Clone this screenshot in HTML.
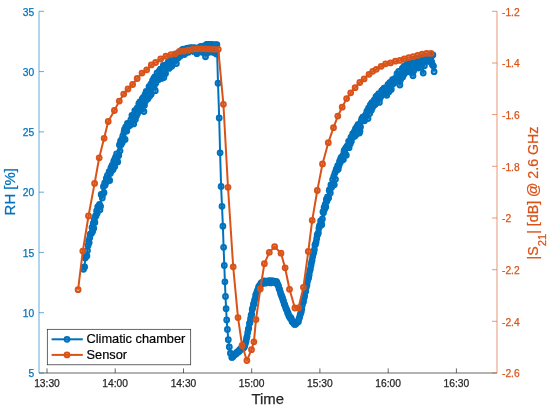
<!DOCTYPE html>
<html lang="en"><head><meta charset="utf-8"><title>RH and |S21| vs Time</title>
<style>html,body{margin:0;padding:0;background:#fff}body{width:550px;height:410px;overflow:hidden;position:relative}</style></head>
<body>
<svg width="550" height="410" viewBox="0 0 550 410" style="position:absolute;left:0;top:0">
<rect width="550" height="410" fill="#fff"/>
<g fill="none" stroke="#0072BD" stroke-width="2" stroke-linejoin="round"><polyline points="83.5,269.3 84.1,267.1 84.6,266.9 85.2,258.1 85.8,256.2 86.3,255.5 86.9,256.0 87.5,250.6 88.1,245.5 88.6,240.8 89.2,242.6 89.8,237.7 90.3,234.1 90.9,233.8 91.5,233.3 92.0,227.4 92.6,231.4 93.2,223.3 93.8,228.3 94.3,219.4 94.9,222.6 95.5,215.8 96.0,215.9 96.6,211.0 97.2,213.2 97.7,206.8 98.3,207.1 98.9,206.0 99.5,204.5 100.0,209.8 100.6,206.3 101.2,194.4 101.7,194.8 102.3,198.1 102.9,194.2 103.4,186.7 104.0,192.7 104.6,183.2 105.2,184.9 105.7,181.9 106.3,178.5 106.9,181.5 107.4,175.5 108.0,178.0 108.6,180.6 109.1,171.6 109.7,180.5 110.3,173.5 110.9,167.9 111.4,171.3 112.0,165.4 112.6,167.3 113.1,169.4 113.7,161.5 114.3,160.1 114.8,166.6 115.4,157.4 116.0,162.3 116.6,153.9 117.1,157.9 117.7,161.9 118.3,155.8 118.8,155.3 119.4,144.9 120.0,150.8 120.5,141.2 121.1,144.7 121.7,139.4 122.3,142.6 122.8,135.8 123.4,138.5 124.0,132.2 124.5,129.5 125.1,139.5 125.7,126.9 126.2,130.6 126.8,131.1 127.4,123.4 128.0,126.8 128.5,124.1 129.1,123.3 129.7,125.6 130.2,124.7 130.8,119.8 131.4,123.2 131.9,115.3 132.5,116.9 133.1,119.3 133.7,123.9 134.2,117.6 134.8,110.6 135.4,119.6 135.9,110.8 136.5,115.7 137.1,108.2 137.6,113.5 138.2,110.3 138.8,103.7 139.4,107.5 139.9,101.8 140.5,104.0 141.1,109.6 141.6,103.1 142.2,98.9 142.8,105.0 143.3,97.5 143.9,111.5 144.5,105.2 145.1,94.5 145.6,100.9 146.2,91.5 146.8,94.5 147.3,91.9 147.9,98.8 148.5,97.2 149.0,86.7 149.6,88.4 150.2,95.6 150.8,84.2 151.3,94.0 151.9,85.8 152.5,80.7 153.0,85.6 153.6,78.7 154.2,86.1 154.7,76.8 155.3,90.7 155.9,83.1 156.5,77.8 157.0,73.0 157.6,76.0 158.2,79.4 158.7,79.5 159.3,70.9 159.9,74.2 160.4,69.2 161.0,70.3 161.6,78.4 162.2,69.5 162.7,69.9 163.3,65.3 163.9,77.6 164.4,72.8 165.0,66.2 165.6,73.6 166.1,65.1 166.7,66.7 167.3,63.9 167.9,66.2 168.4,61.3 169.0,68.4 169.6,60.5 170.1,60.3 170.7,66.4 171.3,60.4 171.8,66.2 172.4,65.0 173.0,59.0 173.6,58.7 174.1,59.4 174.7,56.0 175.3,58.6 175.8,60.2 176.4,63.5 177.0,54.0 177.5,57.6 178.1,58.0 178.7,52.7 179.3,52.3 179.8,55.9 180.4,56.0 181.0,50.8 181.5,53.1 182.1,49.9 182.7,50.7 183.2,49.2 183.8,49.5 184.4,54.6 185.0,53.2 185.5,50.1 186.1,52.0 186.7,48.4 187.2,49.1 187.8,48.2 188.4,52.3 188.9,48.1 189.5,49.5 190.1,48.0 190.7,48.9 191.2,47.9 191.8,47.9 192.4,49.7 192.9,47.9 193.5,51.2 194.1,51.4 194.6,47.9 195.2,47.9 195.8,48.3 196.4,50.3 196.9,53.7 197.5,52.0 198.1,47.8 198.6,51.2 199.2,47.8 199.8,48.5 200.3,47.0 200.9,46.4 201.5,51.0 202.1,47.0 202.6,52.4 203.2,46.2 203.8,49.7 204.3,48.3 204.9,45.9 205.5,56.8 206.0,51.8 206.6,44.5 207.2,49.7 207.8,44.4 208.3,52.6 208.9,49.5 209.5,44.4 210.0,51.8 210.6,44.4 211.2,46.9 211.7,49.6 212.3,44.4 212.9,52.2 213.5,48.0 214.0,45.6 214.6,52.7 215.2,47.1 215.7,44.6 216.3,54.0 216.9,44.7 218.0,83.2 219.2,118.0 220.1,152.8 221.1,186.4 222.0,206.3 222.9,226.2 223.6,247.3 224.3,265.5 224.9,281.8 225.5,296.5 226.1,308.7 226.7,320.0 227.4,329.4 228.3,339.7 229.3,347.0 230.4,353.2 231.8,357.4 232.3,357.2 232.9,356.7 233.4,355.5 234.0,354.8 234.6,354.2 235.1,354.6 235.7,354.1 236.3,352.8 236.9,353.2 237.4,351.8 238.0,351.7 238.6,351.3 239.1,351.4 239.7,349.7 240.3,349.6 240.8,349.6 241.4,348.1 242.0,348.0 242.6,348.0 243.1,348.4 243.7,347.5 244.3,346.9 244.8,345.5 245.4,343.5 246.0,341.6 246.5,338.7 247.1,336.3 247.7,332.6 248.3,329.5 248.8,328.1 249.4,323.6 250.0,322.5 250.5,318.9 251.1,315.4 251.7,314.2 252.2,309.5 252.8,307.8 253.4,304.2 254.0,304.0 254.5,300.6 255.1,298.7 255.7,295.1 256.2,294.4 256.8,292.3 257.4,290.7 257.9,290.0 258.5,287.4 259.1,286.1 259.7,285.8 260.2,285.4 260.8,283.5 261.4,283.9 261.9,282.3 262.5,282.9 263.1,283.2 263.6,281.1 264.2,282.7 264.8,280.8 265.4,283.2 265.9,281.9 266.5,281.7 267.1,282.5 267.6,281.9 268.2,282.4 268.8,280.7 269.3,282.0 269.9,282.0 270.5,282.9 271.1,280.6 271.6,281.7 272.2,282.2 272.8,282.0 273.3,280.8 273.9,282.2 274.5,281.3 275.0,281.3 275.6,283.1 276.2,281.5 276.8,282.2 277.3,283.7 277.9,284.8 278.5,286.0 279.0,288.5 279.6,289.5 280.2,291.6 280.7,293.7 281.3,295.0 281.9,296.7 282.5,297.9 283.0,300.0 283.6,301.4 284.2,304.0 284.7,304.6 285.3,306.3 285.9,308.5 286.4,309.3 287.0,310.3 287.6,313.0 288.2,313.1 288.7,315.6 289.3,316.7 289.9,316.9 290.4,318.6 291.0,317.8 291.6,319.6 292.1,321.7 292.7,321.8 293.3,322.6 293.9,323.6 294.4,324.2 295.0,324.4 295.6,324.1 296.1,323.3 296.7,323.0 297.3,322.1 297.8,321.4 298.4,321.8 299.0,318.8 299.6,317.3 300.1,315.1 300.7,313.3 301.3,311.8 301.8,309.1 302.4,305.1 303.0,302.2 303.5,301.4 304.1,297.9 304.7,295.8 305.3,291.7 305.8,291.1 306.4,287.0 307.0,284.8 307.5,281.3 308.1,279.1 308.7,277.4 309.2,274.7 309.8,271.0 310.4,269.1 311.0,265.5 311.5,262.6 312.1,260.2 312.7,256.5 313.2,254.0 313.8,252.2 314.4,249.6 314.9,245.1 315.5,244.3 316.1,242.0 316.7,238.5 317.2,235.0 317.8,234.2 318.4,232.7 318.9,228.2 319.5,225.7 320.1,225.7 320.6,220.8 321.2,222.4 321.8,224.8 322.4,218.9 322.9,211.8 323.5,212.8 324.1,207.5 324.6,209.3 325.2,204.4 325.8,207.0 326.3,199.5 326.9,201.2 327.5,196.8 328.1,198.5 328.6,197.7 329.2,190.4 329.8,189.5 330.3,193.0 330.9,184.8 331.5,187.6 332.0,186.2 332.6,179.6 333.2,183.7 333.8,176.3 334.3,184.8 334.9,173.1 335.5,179.3 336.0,170.1 336.6,168.6 337.2,170.0 337.7,165.6 338.3,168.9 338.9,165.7 339.5,161.4 340.0,163.1 340.6,158.8 341.2,157.3 341.7,160.4 342.3,157.6 342.9,155.3 343.4,159.4 344.0,151.2 344.6,149.9 345.2,153.9 345.7,148.1 346.3,155.2 346.9,146.4 347.4,146.2 348.0,146.3 348.6,141.3 349.1,147.7 349.7,141.4 350.3,143.7 350.9,137.3 351.4,141.3 352.0,137.0 352.6,133.8 353.1,136.9 353.7,133.9 354.3,131.6 354.8,136.2 355.4,129.0 356.0,134.7 356.6,127.1 357.1,128.6 357.7,125.3 358.3,124.4 358.8,128.2 359.4,133.1 360.0,131.1 360.5,127.0 361.1,121.4 361.7,119.0 362.3,120.1 362.8,117.2 363.4,119.2 364.0,116.6 364.5,120.8 365.1,117.2 365.7,114.8 366.2,115.4 366.8,111.5 367.4,111.2 368.0,118.5 368.5,108.1 369.1,109.3 369.7,113.5 370.2,105.3 370.8,104.4 371.4,110.2 371.9,102.6 372.5,107.6 373.1,105.7 373.7,101.6 374.2,100.1 374.8,104.4 375.4,104.3 375.9,97.0 376.5,102.6 377.1,95.6 377.6,97.0 378.2,96.5 378.8,93.7 379.4,102.4 379.9,98.4 380.5,96.8 381.1,96.1 381.6,90.8 382.2,94.1 382.8,89.7 383.3,92.8 383.9,88.6 384.5,88.0 385.1,92.4 385.6,93.6 386.2,88.4 386.8,95.3 387.3,91.1 387.9,84.7 388.5,87.2 389.0,91.7 389.6,82.9 390.2,82.3 390.8,88.2 391.3,89.4 391.9,82.5 392.5,79.6 393.0,84.1 393.6,79.7 394.2,80.7 394.7,78.7 395.3,82.2 395.9,81.4 396.5,77.7 397.0,73.7 397.6,78.9 398.2,76.5 398.7,71.5 399.3,74.3 399.9,85.0 400.4,80.3 401.0,74.8 401.6,77.5 402.2,68.6 402.7,76.9 403.3,67.4 403.9,74.4 404.4,66.1 405.0,70.3 405.6,66.3 406.1,64.8 406.7,72.1 407.3,66.0 407.9,70.3 408.4,69.7 409.0,63.4 409.6,71.4 410.1,62.9 410.7,64.6 411.3,72.4 411.8,61.3 412.4,66.5 413.0,75.8 413.6,71.1 414.1,60.2 414.7,66.1 415.3,66.9 415.8,63.0 416.4,59.2 417.0,63.9 417.5,59.2 418.1,68.1 418.7,65.4 419.3,58.2 419.8,62.1 420.4,67.4 421.0,62.2 421.5,60.2 422.1,59.8 422.7,60.9 423.2,73.1 423.8,56.9 424.4,65.7 425.0,56.9 425.5,56.5 426.1,61.2 426.7,60.3 427.2,56.1 427.8,60.7 428.4,55.9 428.9,56.7 429.5,61.6 430.1,55.5 430.7,61.8 431.2,55.3 431.8,62.2 432.4,64.9 432.9,54.9 433.5,66.1 434.1,71.7"/>
<g stroke-width="2" fill="#0072BD" fill-opacity="0.45"><circle cx="83.5" cy="269.3" r="2.4"/><circle cx="84.1" cy="267.1" r="2.4"/><circle cx="84.6" cy="266.9" r="2.4"/><circle cx="85.2" cy="258.1" r="2.4"/><circle cx="85.8" cy="256.2" r="2.4"/><circle cx="86.3" cy="255.5" r="2.4"/><circle cx="86.9" cy="256.0" r="2.4"/><circle cx="87.5" cy="250.6" r="2.4"/><circle cx="88.1" cy="245.5" r="2.4"/><circle cx="88.6" cy="240.8" r="2.4"/><circle cx="89.2" cy="242.6" r="2.4"/><circle cx="89.8" cy="237.7" r="2.4"/><circle cx="90.3" cy="234.1" r="2.4"/><circle cx="90.9" cy="233.8" r="2.4"/><circle cx="91.5" cy="233.3" r="2.4"/><circle cx="92.0" cy="227.4" r="2.4"/><circle cx="92.6" cy="231.4" r="2.4"/><circle cx="93.2" cy="223.3" r="2.4"/><circle cx="93.8" cy="228.3" r="2.4"/><circle cx="94.3" cy="219.4" r="2.4"/><circle cx="94.9" cy="222.6" r="2.4"/><circle cx="95.5" cy="215.8" r="2.4"/><circle cx="96.0" cy="215.9" r="2.4"/><circle cx="96.6" cy="211.0" r="2.4"/><circle cx="97.2" cy="213.2" r="2.4"/><circle cx="97.7" cy="206.8" r="2.4"/><circle cx="98.3" cy="207.1" r="2.4"/><circle cx="98.9" cy="206.0" r="2.4"/><circle cx="99.5" cy="204.5" r="2.4"/><circle cx="100.0" cy="209.8" r="2.4"/><circle cx="100.6" cy="206.3" r="2.4"/><circle cx="101.2" cy="194.4" r="2.4"/><circle cx="101.7" cy="194.8" r="2.4"/><circle cx="102.3" cy="198.1" r="2.4"/><circle cx="102.9" cy="194.2" r="2.4"/><circle cx="103.4" cy="186.7" r="2.4"/><circle cx="104.0" cy="192.7" r="2.4"/><circle cx="104.6" cy="183.2" r="2.4"/><circle cx="105.2" cy="184.9" r="2.4"/><circle cx="105.7" cy="181.9" r="2.4"/><circle cx="106.3" cy="178.5" r="2.4"/><circle cx="106.9" cy="181.5" r="2.4"/><circle cx="107.4" cy="175.5" r="2.4"/><circle cx="108.0" cy="178.0" r="2.4"/><circle cx="108.6" cy="180.6" r="2.4"/><circle cx="109.1" cy="171.6" r="2.4"/><circle cx="109.7" cy="180.5" r="2.4"/><circle cx="110.3" cy="173.5" r="2.4"/><circle cx="110.9" cy="167.9" r="2.4"/><circle cx="111.4" cy="171.3" r="2.4"/><circle cx="112.0" cy="165.4" r="2.4"/><circle cx="112.6" cy="167.3" r="2.4"/><circle cx="113.1" cy="169.4" r="2.4"/><circle cx="113.7" cy="161.5" r="2.4"/><circle cx="114.3" cy="160.1" r="2.4"/><circle cx="114.8" cy="166.6" r="2.4"/><circle cx="115.4" cy="157.4" r="2.4"/><circle cx="116.0" cy="162.3" r="2.4"/><circle cx="116.6" cy="153.9" r="2.4"/><circle cx="117.1" cy="157.9" r="2.4"/><circle cx="117.7" cy="161.9" r="2.4"/><circle cx="118.3" cy="155.8" r="2.4"/><circle cx="118.8" cy="155.3" r="2.4"/><circle cx="119.4" cy="144.9" r="2.4"/><circle cx="120.0" cy="150.8" r="2.4"/><circle cx="120.5" cy="141.2" r="2.4"/><circle cx="121.1" cy="144.7" r="2.4"/><circle cx="121.7" cy="139.4" r="2.4"/><circle cx="122.3" cy="142.6" r="2.4"/><circle cx="122.8" cy="135.8" r="2.4"/><circle cx="123.4" cy="138.5" r="2.4"/><circle cx="124.0" cy="132.2" r="2.4"/><circle cx="124.5" cy="129.5" r="2.4"/><circle cx="125.1" cy="139.5" r="2.4"/><circle cx="125.7" cy="126.9" r="2.4"/><circle cx="126.2" cy="130.6" r="2.4"/><circle cx="126.8" cy="131.1" r="2.4"/><circle cx="127.4" cy="123.4" r="2.4"/><circle cx="128.0" cy="126.8" r="2.4"/><circle cx="128.5" cy="124.1" r="2.4"/><circle cx="129.1" cy="123.3" r="2.4"/><circle cx="129.7" cy="125.6" r="2.4"/><circle cx="130.2" cy="124.7" r="2.4"/><circle cx="130.8" cy="119.8" r="2.4"/><circle cx="131.4" cy="123.2" r="2.4"/><circle cx="131.9" cy="115.3" r="2.4"/><circle cx="132.5" cy="116.9" r="2.4"/><circle cx="133.1" cy="119.3" r="2.4"/><circle cx="133.7" cy="123.9" r="2.4"/><circle cx="134.2" cy="117.6" r="2.4"/><circle cx="134.8" cy="110.6" r="2.4"/><circle cx="135.4" cy="119.6" r="2.4"/><circle cx="135.9" cy="110.8" r="2.4"/><circle cx="136.5" cy="115.7" r="2.4"/><circle cx="137.1" cy="108.2" r="2.4"/><circle cx="137.6" cy="113.5" r="2.4"/><circle cx="138.2" cy="110.3" r="2.4"/><circle cx="138.8" cy="103.7" r="2.4"/><circle cx="139.4" cy="107.5" r="2.4"/><circle cx="139.9" cy="101.8" r="2.4"/><circle cx="140.5" cy="104.0" r="2.4"/><circle cx="141.1" cy="109.6" r="2.4"/><circle cx="141.6" cy="103.1" r="2.4"/><circle cx="142.2" cy="98.9" r="2.4"/><circle cx="142.8" cy="105.0" r="2.4"/><circle cx="143.3" cy="97.5" r="2.4"/><circle cx="143.9" cy="111.5" r="2.4"/><circle cx="144.5" cy="105.2" r="2.4"/><circle cx="145.1" cy="94.5" r="2.4"/><circle cx="145.6" cy="100.9" r="2.4"/><circle cx="146.2" cy="91.5" r="2.4"/><circle cx="146.8" cy="94.5" r="2.4"/><circle cx="147.3" cy="91.9" r="2.4"/><circle cx="147.9" cy="98.8" r="2.4"/><circle cx="148.5" cy="97.2" r="2.4"/><circle cx="149.0" cy="86.7" r="2.4"/><circle cx="149.6" cy="88.4" r="2.4"/><circle cx="150.2" cy="95.6" r="2.4"/><circle cx="150.8" cy="84.2" r="2.4"/><circle cx="151.3" cy="94.0" r="2.4"/><circle cx="151.9" cy="85.8" r="2.4"/><circle cx="152.5" cy="80.7" r="2.4"/><circle cx="153.0" cy="85.6" r="2.4"/><circle cx="153.6" cy="78.7" r="2.4"/><circle cx="154.2" cy="86.1" r="2.4"/><circle cx="154.7" cy="76.8" r="2.4"/><circle cx="155.3" cy="90.7" r="2.4"/><circle cx="155.9" cy="83.1" r="2.4"/><circle cx="156.5" cy="77.8" r="2.4"/><circle cx="157.0" cy="73.0" r="2.4"/><circle cx="157.6" cy="76.0" r="2.4"/><circle cx="158.2" cy="79.4" r="2.4"/><circle cx="158.7" cy="79.5" r="2.4"/><circle cx="159.3" cy="70.9" r="2.4"/><circle cx="159.9" cy="74.2" r="2.4"/><circle cx="160.4" cy="69.2" r="2.4"/><circle cx="161.0" cy="70.3" r="2.4"/><circle cx="161.6" cy="78.4" r="2.4"/><circle cx="162.2" cy="69.5" r="2.4"/><circle cx="162.7" cy="69.9" r="2.4"/><circle cx="163.3" cy="65.3" r="2.4"/><circle cx="163.9" cy="77.6" r="2.4"/><circle cx="164.4" cy="72.8" r="2.4"/><circle cx="165.0" cy="66.2" r="2.4"/><circle cx="165.6" cy="73.6" r="2.4"/><circle cx="166.1" cy="65.1" r="2.4"/><circle cx="166.7" cy="66.7" r="2.4"/><circle cx="167.3" cy="63.9" r="2.4"/><circle cx="167.9" cy="66.2" r="2.4"/><circle cx="168.4" cy="61.3" r="2.4"/><circle cx="169.0" cy="68.4" r="2.4"/><circle cx="169.6" cy="60.5" r="2.4"/><circle cx="170.1" cy="60.3" r="2.4"/><circle cx="170.7" cy="66.4" r="2.4"/><circle cx="171.3" cy="60.4" r="2.4"/><circle cx="171.8" cy="66.2" r="2.4"/><circle cx="172.4" cy="65.0" r="2.4"/><circle cx="173.0" cy="59.0" r="2.4"/><circle cx="173.6" cy="58.7" r="2.4"/><circle cx="174.1" cy="59.4" r="2.4"/><circle cx="174.7" cy="56.0" r="2.4"/><circle cx="175.3" cy="58.6" r="2.4"/><circle cx="175.8" cy="60.2" r="2.4"/><circle cx="176.4" cy="63.5" r="2.4"/><circle cx="177.0" cy="54.0" r="2.4"/><circle cx="177.5" cy="57.6" r="2.4"/><circle cx="178.1" cy="58.0" r="2.4"/><circle cx="178.7" cy="52.7" r="2.4"/><circle cx="179.3" cy="52.3" r="2.4"/><circle cx="179.8" cy="55.9" r="2.4"/><circle cx="180.4" cy="56.0" r="2.4"/><circle cx="181.0" cy="50.8" r="2.4"/><circle cx="181.5" cy="53.1" r="2.4"/><circle cx="182.1" cy="49.9" r="2.4"/><circle cx="182.7" cy="50.7" r="2.4"/><circle cx="183.2" cy="49.2" r="2.4"/><circle cx="183.8" cy="49.5" r="2.4"/><circle cx="184.4" cy="54.6" r="2.4"/><circle cx="185.0" cy="53.2" r="2.4"/><circle cx="185.5" cy="50.1" r="2.4"/><circle cx="186.1" cy="52.0" r="2.4"/><circle cx="186.7" cy="48.4" r="2.4"/><circle cx="187.2" cy="49.1" r="2.4"/><circle cx="187.8" cy="48.2" r="2.4"/><circle cx="188.4" cy="52.3" r="2.4"/><circle cx="188.9" cy="48.1" r="2.4"/><circle cx="189.5" cy="49.5" r="2.4"/><circle cx="190.1" cy="48.0" r="2.4"/><circle cx="190.7" cy="48.9" r="2.4"/><circle cx="191.2" cy="47.9" r="2.4"/><circle cx="191.8" cy="47.9" r="2.4"/><circle cx="192.4" cy="49.7" r="2.4"/><circle cx="192.9" cy="47.9" r="2.4"/><circle cx="193.5" cy="51.2" r="2.4"/><circle cx="194.1" cy="51.4" r="2.4"/><circle cx="194.6" cy="47.9" r="2.4"/><circle cx="195.2" cy="47.9" r="2.4"/><circle cx="195.8" cy="48.3" r="2.4"/><circle cx="196.4" cy="50.3" r="2.4"/><circle cx="196.9" cy="53.7" r="2.4"/><circle cx="197.5" cy="52.0" r="2.4"/><circle cx="198.1" cy="47.8" r="2.4"/><circle cx="198.6" cy="51.2" r="2.4"/><circle cx="199.2" cy="47.8" r="2.4"/><circle cx="199.8" cy="48.5" r="2.4"/><circle cx="200.3" cy="47.0" r="2.4"/><circle cx="200.9" cy="46.4" r="2.4"/><circle cx="201.5" cy="51.0" r="2.4"/><circle cx="202.1" cy="47.0" r="2.4"/><circle cx="202.6" cy="52.4" r="2.4"/><circle cx="203.2" cy="46.2" r="2.4"/><circle cx="203.8" cy="49.7" r="2.4"/><circle cx="204.3" cy="48.3" r="2.4"/><circle cx="204.9" cy="45.9" r="2.4"/><circle cx="205.5" cy="56.8" r="2.4"/><circle cx="206.0" cy="51.8" r="2.4"/><circle cx="206.6" cy="44.5" r="2.4"/><circle cx="207.2" cy="49.7" r="2.4"/><circle cx="207.8" cy="44.4" r="2.4"/><circle cx="208.3" cy="52.6" r="2.4"/><circle cx="208.9" cy="49.5" r="2.4"/><circle cx="209.5" cy="44.4" r="2.4"/><circle cx="210.0" cy="51.8" r="2.4"/><circle cx="210.6" cy="44.4" r="2.4"/><circle cx="211.2" cy="46.9" r="2.4"/><circle cx="211.7" cy="49.6" r="2.4"/><circle cx="212.3" cy="44.4" r="2.4"/><circle cx="212.9" cy="52.2" r="2.4"/><circle cx="213.5" cy="48.0" r="2.4"/><circle cx="214.0" cy="45.6" r="2.4"/><circle cx="214.6" cy="52.7" r="2.4"/><circle cx="215.2" cy="47.1" r="2.4"/><circle cx="215.7" cy="44.6" r="2.4"/><circle cx="216.3" cy="54.0" r="2.4"/><circle cx="216.9" cy="44.7" r="2.4"/><circle cx="218.0" cy="83.2" r="2.4"/><circle cx="219.2" cy="118.0" r="2.4"/><circle cx="220.1" cy="152.8" r="2.4"/><circle cx="221.1" cy="186.4" r="2.4"/><circle cx="222.0" cy="206.3" r="2.4"/><circle cx="222.9" cy="226.2" r="2.4"/><circle cx="223.6" cy="247.3" r="2.4"/><circle cx="224.3" cy="265.5" r="2.4"/><circle cx="224.9" cy="281.8" r="2.4"/><circle cx="225.5" cy="296.5" r="2.4"/><circle cx="226.1" cy="308.7" r="2.4"/><circle cx="226.7" cy="320.0" r="2.4"/><circle cx="227.4" cy="329.4" r="2.4"/><circle cx="228.3" cy="339.7" r="2.4"/><circle cx="229.3" cy="347.0" r="2.4"/><circle cx="230.4" cy="353.2" r="2.4"/><circle cx="231.8" cy="357.4" r="2.4"/><circle cx="232.3" cy="357.2" r="2.4"/><circle cx="232.9" cy="356.7" r="2.4"/><circle cx="233.4" cy="355.5" r="2.4"/><circle cx="234.0" cy="354.8" r="2.4"/><circle cx="234.6" cy="354.2" r="2.4"/><circle cx="235.1" cy="354.6" r="2.4"/><circle cx="235.7" cy="354.1" r="2.4"/><circle cx="236.3" cy="352.8" r="2.4"/><circle cx="236.9" cy="353.2" r="2.4"/><circle cx="237.4" cy="351.8" r="2.4"/><circle cx="238.0" cy="351.7" r="2.4"/><circle cx="238.6" cy="351.3" r="2.4"/><circle cx="239.1" cy="351.4" r="2.4"/><circle cx="239.7" cy="349.7" r="2.4"/><circle cx="240.3" cy="349.6" r="2.4"/><circle cx="240.8" cy="349.6" r="2.4"/><circle cx="241.4" cy="348.1" r="2.4"/><circle cx="242.0" cy="348.0" r="2.4"/><circle cx="242.6" cy="348.0" r="2.4"/><circle cx="243.1" cy="348.4" r="2.4"/><circle cx="243.7" cy="347.5" r="2.4"/><circle cx="244.3" cy="346.9" r="2.4"/><circle cx="244.8" cy="345.5" r="2.4"/><circle cx="245.4" cy="343.5" r="2.4"/><circle cx="246.0" cy="341.6" r="2.4"/><circle cx="246.5" cy="338.7" r="2.4"/><circle cx="247.1" cy="336.3" r="2.4"/><circle cx="247.7" cy="332.6" r="2.4"/><circle cx="248.3" cy="329.5" r="2.4"/><circle cx="248.8" cy="328.1" r="2.4"/><circle cx="249.4" cy="323.6" r="2.4"/><circle cx="250.0" cy="322.5" r="2.4"/><circle cx="250.5" cy="318.9" r="2.4"/><circle cx="251.1" cy="315.4" r="2.4"/><circle cx="251.7" cy="314.2" r="2.4"/><circle cx="252.2" cy="309.5" r="2.4"/><circle cx="252.8" cy="307.8" r="2.4"/><circle cx="253.4" cy="304.2" r="2.4"/><circle cx="254.0" cy="304.0" r="2.4"/><circle cx="254.5" cy="300.6" r="2.4"/><circle cx="255.1" cy="298.7" r="2.4"/><circle cx="255.7" cy="295.1" r="2.4"/><circle cx="256.2" cy="294.4" r="2.4"/><circle cx="256.8" cy="292.3" r="2.4"/><circle cx="257.4" cy="290.7" r="2.4"/><circle cx="257.9" cy="290.0" r="2.4"/><circle cx="258.5" cy="287.4" r="2.4"/><circle cx="259.1" cy="286.1" r="2.4"/><circle cx="259.7" cy="285.8" r="2.4"/><circle cx="260.2" cy="285.4" r="2.4"/><circle cx="260.8" cy="283.5" r="2.4"/><circle cx="261.4" cy="283.9" r="2.4"/><circle cx="261.9" cy="282.3" r="2.4"/><circle cx="262.5" cy="282.9" r="2.4"/><circle cx="263.1" cy="283.2" r="2.4"/><circle cx="263.6" cy="281.1" r="2.4"/><circle cx="264.2" cy="282.7" r="2.4"/><circle cx="264.8" cy="280.8" r="2.4"/><circle cx="265.4" cy="283.2" r="2.4"/><circle cx="265.9" cy="281.9" r="2.4"/><circle cx="266.5" cy="281.7" r="2.4"/><circle cx="267.1" cy="282.5" r="2.4"/><circle cx="267.6" cy="281.9" r="2.4"/><circle cx="268.2" cy="282.4" r="2.4"/><circle cx="268.8" cy="280.7" r="2.4"/><circle cx="269.3" cy="282.0" r="2.4"/><circle cx="269.9" cy="282.0" r="2.4"/><circle cx="270.5" cy="282.9" r="2.4"/><circle cx="271.1" cy="280.6" r="2.4"/><circle cx="271.6" cy="281.7" r="2.4"/><circle cx="272.2" cy="282.2" r="2.4"/><circle cx="272.8" cy="282.0" r="2.4"/><circle cx="273.3" cy="280.8" r="2.4"/><circle cx="273.9" cy="282.2" r="2.4"/><circle cx="274.5" cy="281.3" r="2.4"/><circle cx="275.0" cy="281.3" r="2.4"/><circle cx="275.6" cy="283.1" r="2.4"/><circle cx="276.2" cy="281.5" r="2.4"/><circle cx="276.8" cy="282.2" r="2.4"/><circle cx="277.3" cy="283.7" r="2.4"/><circle cx="277.9" cy="284.8" r="2.4"/><circle cx="278.5" cy="286.0" r="2.4"/><circle cx="279.0" cy="288.5" r="2.4"/><circle cx="279.6" cy="289.5" r="2.4"/><circle cx="280.2" cy="291.6" r="2.4"/><circle cx="280.7" cy="293.7" r="2.4"/><circle cx="281.3" cy="295.0" r="2.4"/><circle cx="281.9" cy="296.7" r="2.4"/><circle cx="282.5" cy="297.9" r="2.4"/><circle cx="283.0" cy="300.0" r="2.4"/><circle cx="283.6" cy="301.4" r="2.4"/><circle cx="284.2" cy="304.0" r="2.4"/><circle cx="284.7" cy="304.6" r="2.4"/><circle cx="285.3" cy="306.3" r="2.4"/><circle cx="285.9" cy="308.5" r="2.4"/><circle cx="286.4" cy="309.3" r="2.4"/><circle cx="287.0" cy="310.3" r="2.4"/><circle cx="287.6" cy="313.0" r="2.4"/><circle cx="288.2" cy="313.1" r="2.4"/><circle cx="288.7" cy="315.6" r="2.4"/><circle cx="289.3" cy="316.7" r="2.4"/><circle cx="289.9" cy="316.9" r="2.4"/><circle cx="290.4" cy="318.6" r="2.4"/><circle cx="291.0" cy="317.8" r="2.4"/><circle cx="291.6" cy="319.6" r="2.4"/><circle cx="292.1" cy="321.7" r="2.4"/><circle cx="292.7" cy="321.8" r="2.4"/><circle cx="293.3" cy="322.6" r="2.4"/><circle cx="293.9" cy="323.6" r="2.4"/><circle cx="294.4" cy="324.2" r="2.4"/><circle cx="295.0" cy="324.4" r="2.4"/><circle cx="295.6" cy="324.1" r="2.4"/><circle cx="296.1" cy="323.3" r="2.4"/><circle cx="296.7" cy="323.0" r="2.4"/><circle cx="297.3" cy="322.1" r="2.4"/><circle cx="297.8" cy="321.4" r="2.4"/><circle cx="298.4" cy="321.8" r="2.4"/><circle cx="299.0" cy="318.8" r="2.4"/><circle cx="299.6" cy="317.3" r="2.4"/><circle cx="300.1" cy="315.1" r="2.4"/><circle cx="300.7" cy="313.3" r="2.4"/><circle cx="301.3" cy="311.8" r="2.4"/><circle cx="301.8" cy="309.1" r="2.4"/><circle cx="302.4" cy="305.1" r="2.4"/><circle cx="303.0" cy="302.2" r="2.4"/><circle cx="303.5" cy="301.4" r="2.4"/><circle cx="304.1" cy="297.9" r="2.4"/><circle cx="304.7" cy="295.8" r="2.4"/><circle cx="305.3" cy="291.7" r="2.4"/><circle cx="305.8" cy="291.1" r="2.4"/><circle cx="306.4" cy="287.0" r="2.4"/><circle cx="307.0" cy="284.8" r="2.4"/><circle cx="307.5" cy="281.3" r="2.4"/><circle cx="308.1" cy="279.1" r="2.4"/><circle cx="308.7" cy="277.4" r="2.4"/><circle cx="309.2" cy="274.7" r="2.4"/><circle cx="309.8" cy="271.0" r="2.4"/><circle cx="310.4" cy="269.1" r="2.4"/><circle cx="311.0" cy="265.5" r="2.4"/><circle cx="311.5" cy="262.6" r="2.4"/><circle cx="312.1" cy="260.2" r="2.4"/><circle cx="312.7" cy="256.5" r="2.4"/><circle cx="313.2" cy="254.0" r="2.4"/><circle cx="313.8" cy="252.2" r="2.4"/><circle cx="314.4" cy="249.6" r="2.4"/><circle cx="314.9" cy="245.1" r="2.4"/><circle cx="315.5" cy="244.3" r="2.4"/><circle cx="316.1" cy="242.0" r="2.4"/><circle cx="316.7" cy="238.5" r="2.4"/><circle cx="317.2" cy="235.0" r="2.4"/><circle cx="317.8" cy="234.2" r="2.4"/><circle cx="318.4" cy="232.7" r="2.4"/><circle cx="318.9" cy="228.2" r="2.4"/><circle cx="319.5" cy="225.7" r="2.4"/><circle cx="320.1" cy="225.7" r="2.4"/><circle cx="320.6" cy="220.8" r="2.4"/><circle cx="321.2" cy="222.4" r="2.4"/><circle cx="321.8" cy="224.8" r="2.4"/><circle cx="322.4" cy="218.9" r="2.4"/><circle cx="322.9" cy="211.8" r="2.4"/><circle cx="323.5" cy="212.8" r="2.4"/><circle cx="324.1" cy="207.5" r="2.4"/><circle cx="324.6" cy="209.3" r="2.4"/><circle cx="325.2" cy="204.4" r="2.4"/><circle cx="325.8" cy="207.0" r="2.4"/><circle cx="326.3" cy="199.5" r="2.4"/><circle cx="326.9" cy="201.2" r="2.4"/><circle cx="327.5" cy="196.8" r="2.4"/><circle cx="328.1" cy="198.5" r="2.4"/><circle cx="328.6" cy="197.7" r="2.4"/><circle cx="329.2" cy="190.4" r="2.4"/><circle cx="329.8" cy="189.5" r="2.4"/><circle cx="330.3" cy="193.0" r="2.4"/><circle cx="330.9" cy="184.8" r="2.4"/><circle cx="331.5" cy="187.6" r="2.4"/><circle cx="332.0" cy="186.2" r="2.4"/><circle cx="332.6" cy="179.6" r="2.4"/><circle cx="333.2" cy="183.7" r="2.4"/><circle cx="333.8" cy="176.3" r="2.4"/><circle cx="334.3" cy="184.8" r="2.4"/><circle cx="334.9" cy="173.1" r="2.4"/><circle cx="335.5" cy="179.3" r="2.4"/><circle cx="336.0" cy="170.1" r="2.4"/><circle cx="336.6" cy="168.6" r="2.4"/><circle cx="337.2" cy="170.0" r="2.4"/><circle cx="337.7" cy="165.6" r="2.4"/><circle cx="338.3" cy="168.9" r="2.4"/><circle cx="338.9" cy="165.7" r="2.4"/><circle cx="339.5" cy="161.4" r="2.4"/><circle cx="340.0" cy="163.1" r="2.4"/><circle cx="340.6" cy="158.8" r="2.4"/><circle cx="341.2" cy="157.3" r="2.4"/><circle cx="341.7" cy="160.4" r="2.4"/><circle cx="342.3" cy="157.6" r="2.4"/><circle cx="342.9" cy="155.3" r="2.4"/><circle cx="343.4" cy="159.4" r="2.4"/><circle cx="344.0" cy="151.2" r="2.4"/><circle cx="344.6" cy="149.9" r="2.4"/><circle cx="345.2" cy="153.9" r="2.4"/><circle cx="345.7" cy="148.1" r="2.4"/><circle cx="346.3" cy="155.2" r="2.4"/><circle cx="346.9" cy="146.4" r="2.4"/><circle cx="347.4" cy="146.2" r="2.4"/><circle cx="348.0" cy="146.3" r="2.4"/><circle cx="348.6" cy="141.3" r="2.4"/><circle cx="349.1" cy="147.7" r="2.4"/><circle cx="349.7" cy="141.4" r="2.4"/><circle cx="350.3" cy="143.7" r="2.4"/><circle cx="350.9" cy="137.3" r="2.4"/><circle cx="351.4" cy="141.3" r="2.4"/><circle cx="352.0" cy="137.0" r="2.4"/><circle cx="352.6" cy="133.8" r="2.4"/><circle cx="353.1" cy="136.9" r="2.4"/><circle cx="353.7" cy="133.9" r="2.4"/><circle cx="354.3" cy="131.6" r="2.4"/><circle cx="354.8" cy="136.2" r="2.4"/><circle cx="355.4" cy="129.0" r="2.4"/><circle cx="356.0" cy="134.7" r="2.4"/><circle cx="356.6" cy="127.1" r="2.4"/><circle cx="357.1" cy="128.6" r="2.4"/><circle cx="357.7" cy="125.3" r="2.4"/><circle cx="358.3" cy="124.4" r="2.4"/><circle cx="358.8" cy="128.2" r="2.4"/><circle cx="359.4" cy="133.1" r="2.4"/><circle cx="360.0" cy="131.1" r="2.4"/><circle cx="360.5" cy="127.0" r="2.4"/><circle cx="361.1" cy="121.4" r="2.4"/><circle cx="361.7" cy="119.0" r="2.4"/><circle cx="362.3" cy="120.1" r="2.4"/><circle cx="362.8" cy="117.2" r="2.4"/><circle cx="363.4" cy="119.2" r="2.4"/><circle cx="364.0" cy="116.6" r="2.4"/><circle cx="364.5" cy="120.8" r="2.4"/><circle cx="365.1" cy="117.2" r="2.4"/><circle cx="365.7" cy="114.8" r="2.4"/><circle cx="366.2" cy="115.4" r="2.4"/><circle cx="366.8" cy="111.5" r="2.4"/><circle cx="367.4" cy="111.2" r="2.4"/><circle cx="368.0" cy="118.5" r="2.4"/><circle cx="368.5" cy="108.1" r="2.4"/><circle cx="369.1" cy="109.3" r="2.4"/><circle cx="369.7" cy="113.5" r="2.4"/><circle cx="370.2" cy="105.3" r="2.4"/><circle cx="370.8" cy="104.4" r="2.4"/><circle cx="371.4" cy="110.2" r="2.4"/><circle cx="371.9" cy="102.6" r="2.4"/><circle cx="372.5" cy="107.6" r="2.4"/><circle cx="373.1" cy="105.7" r="2.4"/><circle cx="373.7" cy="101.6" r="2.4"/><circle cx="374.2" cy="100.1" r="2.4"/><circle cx="374.8" cy="104.4" r="2.4"/><circle cx="375.4" cy="104.3" r="2.4"/><circle cx="375.9" cy="97.0" r="2.4"/><circle cx="376.5" cy="102.6" r="2.4"/><circle cx="377.1" cy="95.6" r="2.4"/><circle cx="377.6" cy="97.0" r="2.4"/><circle cx="378.2" cy="96.5" r="2.4"/><circle cx="378.8" cy="93.7" r="2.4"/><circle cx="379.4" cy="102.4" r="2.4"/><circle cx="379.9" cy="98.4" r="2.4"/><circle cx="380.5" cy="96.8" r="2.4"/><circle cx="381.1" cy="96.1" r="2.4"/><circle cx="381.6" cy="90.8" r="2.4"/><circle cx="382.2" cy="94.1" r="2.4"/><circle cx="382.8" cy="89.7" r="2.4"/><circle cx="383.3" cy="92.8" r="2.4"/><circle cx="383.9" cy="88.6" r="2.4"/><circle cx="384.5" cy="88.0" r="2.4"/><circle cx="385.1" cy="92.4" r="2.4"/><circle cx="385.6" cy="93.6" r="2.4"/><circle cx="386.2" cy="88.4" r="2.4"/><circle cx="386.8" cy="95.3" r="2.4"/><circle cx="387.3" cy="91.1" r="2.4"/><circle cx="387.9" cy="84.7" r="2.4"/><circle cx="388.5" cy="87.2" r="2.4"/><circle cx="389.0" cy="91.7" r="2.4"/><circle cx="389.6" cy="82.9" r="2.4"/><circle cx="390.2" cy="82.3" r="2.4"/><circle cx="390.8" cy="88.2" r="2.4"/><circle cx="391.3" cy="89.4" r="2.4"/><circle cx="391.9" cy="82.5" r="2.4"/><circle cx="392.5" cy="79.6" r="2.4"/><circle cx="393.0" cy="84.1" r="2.4"/><circle cx="393.6" cy="79.7" r="2.4"/><circle cx="394.2" cy="80.7" r="2.4"/><circle cx="394.7" cy="78.7" r="2.4"/><circle cx="395.3" cy="82.2" r="2.4"/><circle cx="395.9" cy="81.4" r="2.4"/><circle cx="396.5" cy="77.7" r="2.4"/><circle cx="397.0" cy="73.7" r="2.4"/><circle cx="397.6" cy="78.9" r="2.4"/><circle cx="398.2" cy="76.5" r="2.4"/><circle cx="398.7" cy="71.5" r="2.4"/><circle cx="399.3" cy="74.3" r="2.4"/><circle cx="399.9" cy="85.0" r="2.4"/><circle cx="400.4" cy="80.3" r="2.4"/><circle cx="401.0" cy="74.8" r="2.4"/><circle cx="401.6" cy="77.5" r="2.4"/><circle cx="402.2" cy="68.6" r="2.4"/><circle cx="402.7" cy="76.9" r="2.4"/><circle cx="403.3" cy="67.4" r="2.4"/><circle cx="403.9" cy="74.4" r="2.4"/><circle cx="404.4" cy="66.1" r="2.4"/><circle cx="405.0" cy="70.3" r="2.4"/><circle cx="405.6" cy="66.3" r="2.4"/><circle cx="406.1" cy="64.8" r="2.4"/><circle cx="406.7" cy="72.1" r="2.4"/><circle cx="407.3" cy="66.0" r="2.4"/><circle cx="407.9" cy="70.3" r="2.4"/><circle cx="408.4" cy="69.7" r="2.4"/><circle cx="409.0" cy="63.4" r="2.4"/><circle cx="409.6" cy="71.4" r="2.4"/><circle cx="410.1" cy="62.9" r="2.4"/><circle cx="410.7" cy="64.6" r="2.4"/><circle cx="411.3" cy="72.4" r="2.4"/><circle cx="411.8" cy="61.3" r="2.4"/><circle cx="412.4" cy="66.5" r="2.4"/><circle cx="413.0" cy="75.8" r="2.4"/><circle cx="413.6" cy="71.1" r="2.4"/><circle cx="414.1" cy="60.2" r="2.4"/><circle cx="414.7" cy="66.1" r="2.4"/><circle cx="415.3" cy="66.9" r="2.4"/><circle cx="415.8" cy="63.0" r="2.4"/><circle cx="416.4" cy="59.2" r="2.4"/><circle cx="417.0" cy="63.9" r="2.4"/><circle cx="417.5" cy="59.2" r="2.4"/><circle cx="418.1" cy="68.1" r="2.4"/><circle cx="418.7" cy="65.4" r="2.4"/><circle cx="419.3" cy="58.2" r="2.4"/><circle cx="419.8" cy="62.1" r="2.4"/><circle cx="420.4" cy="67.4" r="2.4"/><circle cx="421.0" cy="62.2" r="2.4"/><circle cx="421.5" cy="60.2" r="2.4"/><circle cx="422.1" cy="59.8" r="2.4"/><circle cx="422.7" cy="60.9" r="2.4"/><circle cx="423.2" cy="73.1" r="2.4"/><circle cx="423.8" cy="56.9" r="2.4"/><circle cx="424.4" cy="65.7" r="2.4"/><circle cx="425.0" cy="56.9" r="2.4"/><circle cx="425.5" cy="56.5" r="2.4"/><circle cx="426.1" cy="61.2" r="2.4"/><circle cx="426.7" cy="60.3" r="2.4"/><circle cx="427.2" cy="56.1" r="2.4"/><circle cx="427.8" cy="60.7" r="2.4"/><circle cx="428.4" cy="55.9" r="2.4"/><circle cx="428.9" cy="56.7" r="2.4"/><circle cx="429.5" cy="61.6" r="2.4"/><circle cx="430.1" cy="55.5" r="2.4"/><circle cx="430.7" cy="61.8" r="2.4"/><circle cx="431.2" cy="55.3" r="2.4"/><circle cx="431.8" cy="62.2" r="2.4"/><circle cx="432.4" cy="64.9" r="2.4"/><circle cx="432.9" cy="54.9" r="2.4"/><circle cx="433.5" cy="66.1" r="2.4"/><circle cx="434.1" cy="71.7" r="2.4"/></g></g>
<g fill="none" stroke="#D95319" stroke-width="2" stroke-linejoin="round"><polyline points="78.1,289.7 82.8,251.1 88.5,216.0 94.6,183.4 99.2,157.8 104.1,138.3 108.2,121.5 114.4,110.5 119.3,101.1 123.7,94.1 128.0,89.0 132.6,84.5 137.2,78.5 142.0,73.1 146.7,69.8 151.3,64.9 155.6,62.5 160.7,59.0 165.9,56.2 171.0,54.6 175.2,53.8 179.5,51.4 183.8,51.1 188.1,50.2 192.4,49.3 196.7,48.9 201.1,48.8 205.4,48.9 209.7,49.1 214.0,49.3 218.3,49.3 223.4,104.3 228.0,187.3 233.2,266.8 238.0,317.6 242.1,345.5 246.9,360.5 251.5,349.7 253.9,341.8 256.0,319.6 260.3,289.0 264.4,263.7 269.3,252.4 274.6,246.6 281.0,253.2 285.1,267.8 289.5,289.3 294.9,308.0 298.5,308.0 303.4,287.3 308.3,251.5 312.2,220.3 317.3,190.5 322.5,163.9 328.3,142.7 333.5,127.7 337.8,116.1 342.2,107.2 346.6,98.6 350.7,92.8 355.1,87.7 359.8,82.5 364.1,78.9 369.0,74.3 372.7,71.3 376.3,69.3 381.2,66.3 385.6,63.8 390.5,62.9 395.4,61.2 399.9,60.4 404.3,58.8 408.8,57.6 413.2,56.7 417.7,55.4 422.1,54.1 426.6,53.4 431.0,53.4"/>
<g stroke-width="2" fill="#D95319" fill-opacity="0.45"><circle cx="78.1" cy="289.7" r="2.4"/><circle cx="82.8" cy="251.1" r="2.4"/><circle cx="88.5" cy="216.0" r="2.4"/><circle cx="94.6" cy="183.4" r="2.4"/><circle cx="99.2" cy="157.8" r="2.4"/><circle cx="104.1" cy="138.3" r="2.4"/><circle cx="108.2" cy="121.5" r="2.4"/><circle cx="114.4" cy="110.5" r="2.4"/><circle cx="119.3" cy="101.1" r="2.4"/><circle cx="123.7" cy="94.1" r="2.4"/><circle cx="128.0" cy="89.0" r="2.4"/><circle cx="132.6" cy="84.5" r="2.4"/><circle cx="137.2" cy="78.5" r="2.4"/><circle cx="142.0" cy="73.1" r="2.4"/><circle cx="146.7" cy="69.8" r="2.4"/><circle cx="151.3" cy="64.9" r="2.4"/><circle cx="155.6" cy="62.5" r="2.4"/><circle cx="160.7" cy="59.0" r="2.4"/><circle cx="165.9" cy="56.2" r="2.4"/><circle cx="171.0" cy="54.6" r="2.4"/><circle cx="175.2" cy="53.8" r="2.4"/><circle cx="179.5" cy="51.4" r="2.4"/><circle cx="183.8" cy="51.1" r="2.4"/><circle cx="188.1" cy="50.2" r="2.4"/><circle cx="192.4" cy="49.3" r="2.4"/><circle cx="196.7" cy="48.9" r="2.4"/><circle cx="201.1" cy="48.8" r="2.4"/><circle cx="205.4" cy="48.9" r="2.4"/><circle cx="209.7" cy="49.1" r="2.4"/><circle cx="214.0" cy="49.3" r="2.4"/><circle cx="218.3" cy="49.3" r="2.4"/><circle cx="223.4" cy="104.3" r="2.4"/><circle cx="228.0" cy="187.3" r="2.4"/><circle cx="233.2" cy="266.8" r="2.4"/><circle cx="238.0" cy="317.6" r="2.4"/><circle cx="242.1" cy="345.5" r="2.4"/><circle cx="246.9" cy="360.5" r="2.4"/><circle cx="251.5" cy="349.7" r="2.4"/><circle cx="253.9" cy="341.8" r="2.4"/><circle cx="256.0" cy="319.6" r="2.4"/><circle cx="260.3" cy="289.0" r="2.4"/><circle cx="264.4" cy="263.7" r="2.4"/><circle cx="269.3" cy="252.4" r="2.4"/><circle cx="274.6" cy="246.6" r="2.4"/><circle cx="281.0" cy="253.2" r="2.4"/><circle cx="285.1" cy="267.8" r="2.4"/><circle cx="289.5" cy="289.3" r="2.4"/><circle cx="294.9" cy="308.0" r="2.4"/><circle cx="298.5" cy="308.0" r="2.4"/><circle cx="303.4" cy="287.3" r="2.4"/><circle cx="308.3" cy="251.5" r="2.4"/><circle cx="312.2" cy="220.3" r="2.4"/><circle cx="317.3" cy="190.5" r="2.4"/><circle cx="322.5" cy="163.9" r="2.4"/><circle cx="328.3" cy="142.7" r="2.4"/><circle cx="333.5" cy="127.7" r="2.4"/><circle cx="337.8" cy="116.1" r="2.4"/><circle cx="342.2" cy="107.2" r="2.4"/><circle cx="346.6" cy="98.6" r="2.4"/><circle cx="350.7" cy="92.8" r="2.4"/><circle cx="355.1" cy="87.7" r="2.4"/><circle cx="359.8" cy="82.5" r="2.4"/><circle cx="364.1" cy="78.9" r="2.4"/><circle cx="369.0" cy="74.3" r="2.4"/><circle cx="372.7" cy="71.3" r="2.4"/><circle cx="376.3" cy="69.3" r="2.4"/><circle cx="381.2" cy="66.3" r="2.4"/><circle cx="385.6" cy="63.8" r="2.4"/><circle cx="390.5" cy="62.9" r="2.4"/><circle cx="395.4" cy="61.2" r="2.4"/><circle cx="399.9" cy="60.4" r="2.4"/><circle cx="404.3" cy="58.8" r="2.4"/><circle cx="408.8" cy="57.6" r="2.4"/><circle cx="413.2" cy="56.7" r="2.4"/><circle cx="417.7" cy="55.4" r="2.4"/><circle cx="422.1" cy="54.1" r="2.4"/><circle cx="426.6" cy="53.4" r="2.4"/><circle cx="431.0" cy="53.4" r="2.4"/></g></g>
<g stroke="#262626" stroke-width="0.7" fill="none"><path d="M39.0 373H497"/>
<path d="M47.0 373v-4.6"/>
<path d="M115.2 373v-4.6"/>
<path d="M183.5 373v-4.6"/>
<path d="M251.7 373v-4.6"/>
<path d="M319.9 373v-4.6"/>
<path d="M388.2 373v-4.6"/>
<path d="M456.4 373v-4.6"/>
</g>
<g stroke="#0072BD" stroke-width="0.7" fill="none" opacity="0.85"><path d="M39.0 11.3V373"/>
<path d="M39.0 373.0h5"/>
<path d="M39.0 312.7h5"/>
<path d="M39.0 252.4h5"/>
<path d="M39.0 192.2h5"/>
<path d="M39.0 131.9h5"/>
<path d="M39.0 71.6h5"/>
<path d="M39.0 11.3h5"/>
</g>
<g stroke="#D95319" stroke-width="0.7" fill="none" opacity="0.85"><path d="M497 11.3V373"/>
<path d="M497 373.0h-5"/>
<path d="M497 321.3h-5"/>
<path d="M497 269.7h-5"/>
<path d="M497 218.0h-5"/>
<path d="M497 166.3h-5"/>
<path d="M497 114.6h-5"/>
<path d="M497 63.0h-5"/>
<path d="M497 11.3h-5"/>
</g>
<g font-family="Liberation Sans, Arial, sans-serif" font-size="10.25" stroke-width="0.25">
<g fill="#262626" stroke="#262626" text-anchor="middle">
<text x="47.0" y="387.1">13:30</text>
<text x="115.2" y="387.1">14:00</text>
<text x="183.5" y="387.1">14:30</text>
<text x="251.7" y="387.1">15:00</text>
<text x="319.9" y="387.1">15:30</text>
<text x="388.2" y="387.1">16:00</text>
<text x="456.4" y="387.1">16:30</text>
</g>
<g fill="#0072BD" stroke="#0072BD" text-anchor="end">
<text x="34.2" y="377.2">5</text>
<text x="34.2" y="316.9">10</text>
<text x="34.2" y="256.6">15</text>
<text x="34.2" y="196.3">20</text>
<text x="34.2" y="136.1">25</text>
<text x="34.2" y="75.8">30</text>
<text x="34.2" y="15.5">35</text>
</g>
<g fill="#D95319" stroke="#D95319" text-anchor="start">
<text x="502" y="377.2">-2.6</text>
<text x="502" y="325.5">-2.4</text>
<text x="502" y="273.9">-2.2</text>
<text x="502" y="222.2">-2</text>
<text x="502" y="170.5">-1.8</text>
<text x="502" y="118.8">-1.6</text>
<text x="502" y="67.2">-1.4</text>
<text x="502" y="15.5">-1.2</text>
</g></g>
<g font-family="Liberation Sans, Arial, sans-serif" font-size="14.9" stroke-width="0.25">
<text x="267.8" y="404" text-anchor="middle" fill="#262626" stroke="#262626">Time</text>
<text transform="translate(14.8 191.8) rotate(-90)" text-anchor="middle" fill="#0072BD" stroke="#0072BD">RH [%]</text>
<text transform="translate(538.3 193.0) rotate(-90)" text-anchor="middle" fill="#D95319" stroke="#D95319" font-size="14.2">|S<tspan font-size="11.2" dy="7.4">21</tspan><tspan dy="-7.4">| [dB] @ 2.6 GHz</tspan></text>
</g>
<rect x="47.3" y="329.3" width="143.4" height="35.5" fill="#fff" stroke="#262626" stroke-width="0.7"/>
<g fill="none" stroke-width="2"><path d="M51.6 339.3H82.8" stroke="#0072BD"/><circle cx="67" cy="339.3" r="2.4" stroke="#0072BD" fill="#0072BD" fill-opacity="0.45"/>
<path d="M51.6 354.9H82.8" stroke="#D95319"/><circle cx="67" cy="354.9" r="2.4" stroke="#D95319" fill="#D95319" fill-opacity="0.45"/></g>
<g font-family="Liberation Sans, Arial, sans-serif" font-size="12.8" fill="#000" stroke="#000" stroke-width="0.2"><text x="86.5" y="343.2">Climatic chamber</text><text x="86.5" y="359.3">Sensor</text></g>
</svg>
</body></html>
